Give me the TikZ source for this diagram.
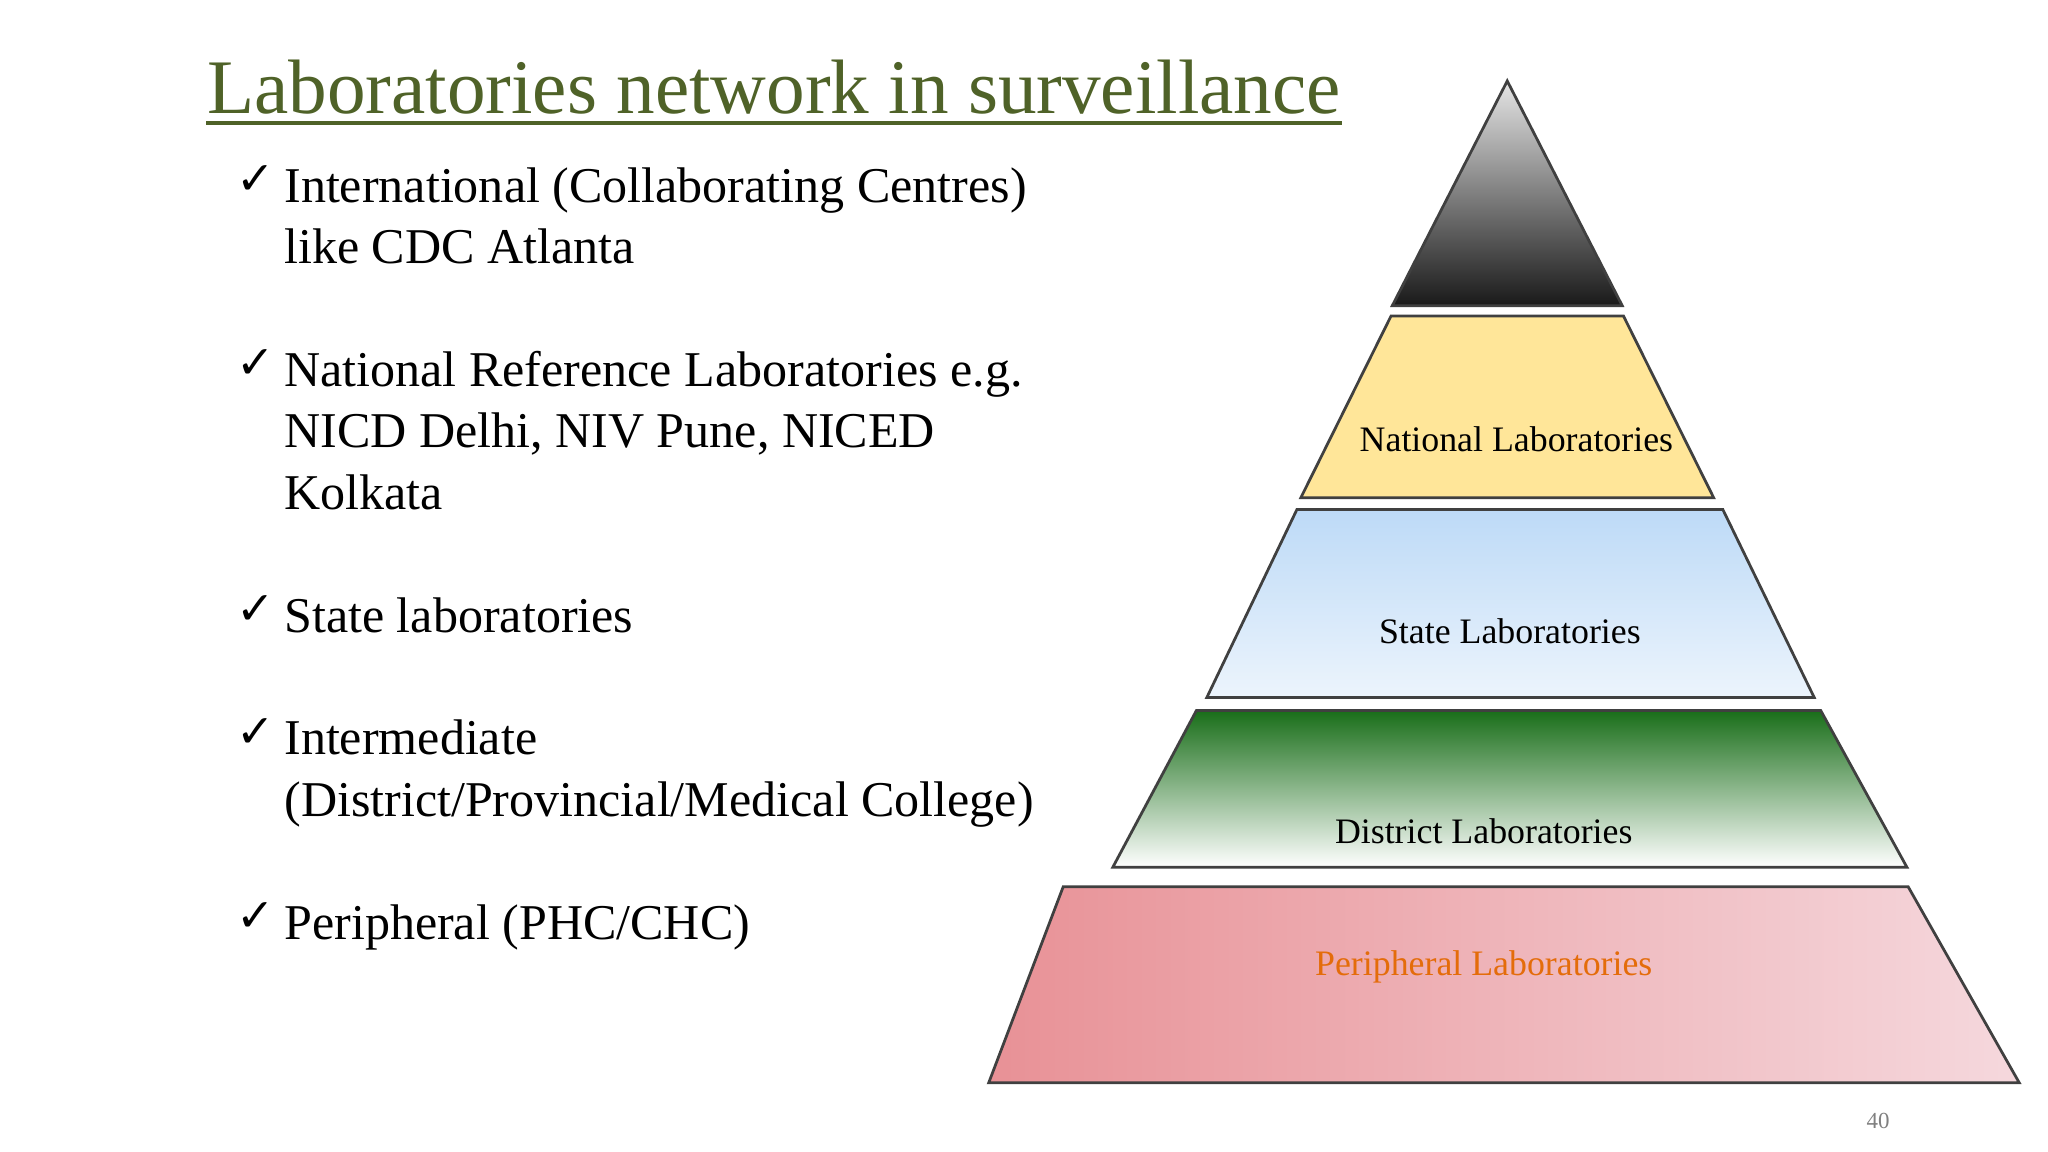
\documentclass[tikz,border=0pt]{standalone}
\usepackage{fontspec}
\setmainfont{Liberation Serif}
\newfontfamily\djv{DejaVu Sans}
\usetikzlibrary{calc}
\definecolor{titlegreen}{RGB}{79,98,40}
\begin{document}
\begin{tikzpicture}[x=0.01cm,y=-0.01cm,
  tier/.style={draw=black!75,line width=0.6pt},
  lbl/.style={font=\fontsize{7.8pt}{9pt}\selectfont,anchor=base},
  bul/.style={font=\fontsize{10.9pt}{13.4pt}\selectfont,anchor=base west,inner sep=0pt},
  chk/.style={font=\djv\fontsize{10pt}{11pt}\selectfont,anchor=base west,inner sep=0pt}]
\useasboundingbox (0,0) rectangle (1568,882);
\fill[white] (0,0) rectangle (1568,882);
\node[anchor=base west,inner sep=0pt,text=titlegreen,font=\fontsize{16.8pt}{19pt}\selectfont] (title) at (158,87) {Laboratories network in surveillance};
\draw[titlegreen,line width=0.9pt] ($(title.south west)+(0,6)$) -- ($(title.south east)+(0,6)$);
% bullets
\foreach \y in {155,296,484,578,719}{\node[chk] at (180,\y-6) {✓};}
\foreach \y/\t in {155/{International (Collaborating Centres)},202/{like CDC Atlanta},296/{National Reference Laboratories e.g.},343/{NICD Delhi, NIV Pune, NICED},390/{Kolkata},484/{State laboratories},578/{Intermediate},625/{(District/Provincial/Medical College)},719/{Peripheral (PHC/CHC)}}{
  \node[bul] at (217,\y) {\t};
}
% pyramid
\shade[tier,top color=black!10,bottom color=black!90] (1154,62) -- (1242,234) -- (1066,234) -- cycle;
\fill[tier,fill={rgb,255:red,255;green,230;blue,153}] (1065,242) -- (1243,242) -- (1312,381) -- (996,381) -- cycle;
\node[lbl] (nat) at (1161,346) {National Laboratories};
\shade[tier,top color={rgb,255:red,189;green,218;blue,247},bottom color={rgb,255:red,236;green,244;blue,252}] (993,390) -- (1319,390) -- (1389,534) -- (924,534) -- cycle;
\node[lbl] (sta) at (1156,493) {State Laboratories};
\shade[tier,top color={rgb,255:red,25;green,110;blue,25},middle color=white!85!green,bottom color=white] (916,544) -- (1394,544) -- (1460,664) -- (852,664) -- cycle;
\node[lbl] (dis) at (1136,646) {District Laboratories};
\shade[tier,left color={rgb,255:red,232;green,145;blue,150},right color={rgb,255:red,245;green,216;blue,221}] (814,679) -- (1461,679) -- (1546,829) -- (757,829) -- cycle;
\node[lbl,text={rgb,255:red,228;green,108;blue,10}] (per) at (1136,747) {Peripheral Laboratories};
\node[anchor=base,font=\fontsize{5pt}{6pt}\selectfont,text=black!50] (pg) at (1438,864) {40};
\end{tikzpicture}
\end{document}
